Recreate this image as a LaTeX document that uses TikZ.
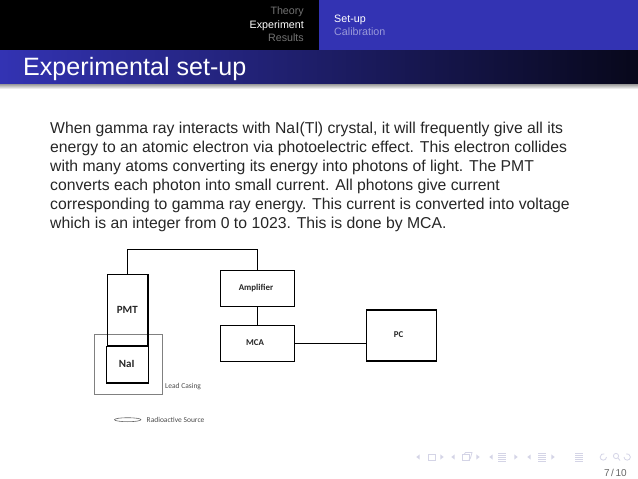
\documentclass[tikz,border=0pt]{standalone}
\usepackage{fontspec}
\setmainfont{Liberation Sans}
\newfontfamily\calibri{Carlito}
\usetikzlibrary{positioning,shapes.geometric}
\definecolor{beamerblue}{RGB}{51,51,179}
\definecolor{navgray}{RGB}{212,212,230}
\tikzset{
  blockbox/.style={draw=black,line width=1.3pt,inner sep=0pt,outer sep=0pt},
  boxlabel/.style={font=\calibri\bfseries\fontsize{11}{12}\selectfont,text=black!85,inner sep=0pt},
  tinylabel/.style={font=\calibri\bfseries\fontsize{8.9}{10}\selectfont,text=black!85,inner sep=0pt},
  smalllabel/.style={font=\calibri\fontsize{7.5}{8}\selectfont,text=black!70,inner sep=0pt,anchor=west},
  navtext/.style={font=\fontsize{10.7}{12}\selectfont,inner sep=0pt},
  navline/.style={draw=navgray,line width=0.8pt},
  navtip/.style={fill=navgray,draw=none}
}
\begin{document}
\begin{tikzpicture}[x=1pt,y=-1pt]
        \useasboundingbox (0,0) rectangle (638,479);

        % header
        \fill[black] (0,0) rectangle (319,50);
        \fill[beamerblue] (319,0) rectangle (638,50);
        \shade[left color=beamerblue,right color=black!85!beamerblue] (0,50) rectangle (638,84);
        \shade[top color=black!40,bottom color=white] (0,84) rectangle (638,89);

        \node[navtext,anchor=base east,text=white!45!black] (theory) at (304,15) {Theory};
        \node[navtext,anchor=base east,text=white] (experiment) at (304,28.3) {Experiment};
        \node[navtext,anchor=base east,text=white!45!black] (results) at (304,41.6) {Results};
        \node[navtext,anchor=base west,text=white] (setup) at (334,22) {Set-up};
        \node[navtext,anchor=base west,text=white!50!beamerblue] (calib) at (334,35.3) {Calibration};
        \node[anchor=base west,inner sep=0pt,text=white,font=\fontsize{25.1}{28}\selectfont] (title) at (23,75) {Experimental set-up};

        \node[anchor=north west,inner sep=0pt,align=left,text=black!85,font=\fontsize{15.75}{19}\selectfont] (body) at (50,121.5)
        {When gamma ray interacts with NaI(Tl) crystal, it will frequently give all its\\
        energy to an atomic electron via photoelectric effect. This electron collides\\
        with many atoms converting its energy into photons of light. The PMT\\
        converts each photon into small current. All photons give current\\
        corresponding to gamma ray energy. This current is converted into voltage\\
        which is an integer from 0 to 1023. This is done by MCA.};

        %############################################

        \coordinate (P) at (127.8,310);
        \coordinate (N) at (127.7,364.6);
        \coordinate (L) at (128.3,364.5);
        \coordinate (A) at (257.5,288.5);
        \coordinate (M) at (257.5,343.7);
        \coordinate (C) at (401.7,335.5);

        \node[draw=black!50,line width=0.8pt,minimum width=68pt,minimum height=60.4pt,inner sep=0pt] (casing) at (L) {};
        \node[blockbox,minimum width=40.3pt,minimum height=71.4pt] (PMT) at (P) {};
        \node[blockbox,minimum width=42pt,minimum height=36.7pt] (NaI) at (N) {};
        \node[blockbox,minimum width=74.4pt,minimum height=35.6pt] (Amp) at (A) {};
        \node[blockbox,minimum width=74.4pt,minimum height=36pt] (MCA) at (M) {};
        \node[blockbox,minimum width=70pt,minimum height=51pt] (PC) at (C) {};

        \node[boxlabel] (PMTtext) at (127.3,309.5) {PMT};
        \node[boxlabel] (NaItext) at (126.8,363.7) {NaI};
        \node[tinylabel] (Amptext) at (256,288.5) {Amplifier};
        \node[tinylabel] (MCAtext) at (255,343) {MCA};
        \node[tinylabel] (PCtext) at (398.5,335) {PC};

        \draw[line width=1.3pt] (PMT.north) -- ++(0,-24.6) -| (Amp.north);
        \draw[line width=1.3pt] (Amp) -- (MCA);
        \draw[line width=1.3pt] (MCA) -- (MCA -| PC.west);

        \node[smalllabel] (leadtext) at (165,387) {Lead Casing};
        \node[draw=black!60,line width=0.6pt,ellipse,minimum width=26.5pt,minimum height=4pt,inner sep=0pt] (source) at (127.7,419.7) {};
        \node[smalllabel] (sourcetext) at (146.5,420) {Radioactive Source};

        %############################################

        % navigation symbols
        \foreach \x/\w in {418/1,442/-1,453/1,478/-1,491/1,516/-1,529/1,553/-1}
          \fill[navtip] (\x-\w*1.7,457) -- ++(\w*3.4,-2.6) -- ++(0,5.2) -- cycle;
        \draw[navline] (428.5,454.5) rectangle (435.5,460);
        \draw[navline] (462,460) rectangle (469,454.5);
        \draw[navline] (464,454.5) -- (465.5,452.5) -- (472,452.5) -- (470.5,458) -- (469,460);
        \foreach \x in {498,538,575}
          \foreach \y in {453,455,457,459,461}
            \draw[navline,line width=0.7pt] (\x,\y) -- ++(8,0);
        \draw[navline] (606.5,457) arc (0:290:3.2);
        \draw[navline] (616,456) circle (2.6);
        \draw[navline] (618,458) -- (620,460.5);
        \draw[navline] (624,457) arc (180:-110:3.2);

        \node[anchor=base east,inner sep=0pt,text=black!60,font=\fontsize{10}{12}\selectfont] (page) at (627,476) {7\,/\,10};
\end{tikzpicture}
\end{document}
